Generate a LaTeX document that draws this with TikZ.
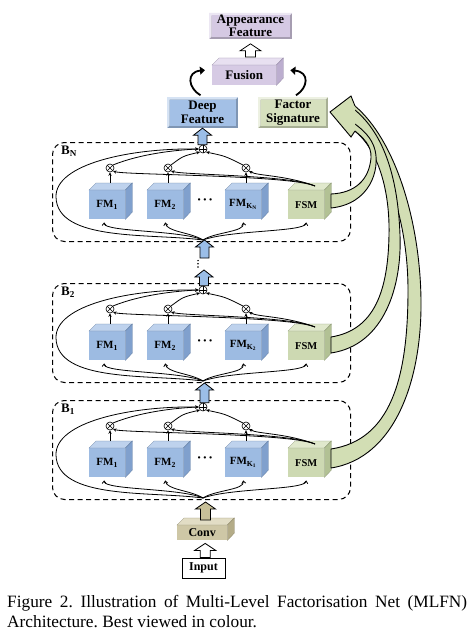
\documentclass[tikz,border=0pt]{standalone}
\usepackage{fontspec}
\setmainfont{Liberation Serif}
\usetikzlibrary{arrows.meta,calc}

\definecolor{lav}{RGB}{213,201,227}
\definecolor{blu}{RGB}{163,192,230}
\definecolor{grn}{RGB}{214,224,190}
\definecolor{cbF}{RGB}{157,187,226}
\definecolor{cbT}{RGB}{190,210,237}
\definecolor{cbR}{RGB}{128,160,205}
\definecolor{cgF}{RGB}{205,217,178}
\definecolor{cgT}{RGB}{224,232,204}
\definecolor{cgR}{RGB}{178,193,148}
\definecolor{ckF}{RGB}{206,199,166}
\definecolor{ckT}{RGB}{226,221,197}
\definecolor{ckR}{RGB}{180,172,136}
\definecolor{clF}{RGB}{214,202,228}
\definecolor{clT}{RGB}{232,224,241}
\definecolor{clR}{RGB}{188,174,207}
\definecolor{barrB}{RGB}{155,190,232}
\definecolor{barrK}{RGB}{200,192,152}
\definecolor{band}{RGB}{210,222,180}

\newcommand{\fmfont}{\fontsize{11}{11}\selectfont\bfseries}

\tikzset{
 sarr/.style={line width=0.8pt, -{Stealth[length=3.5pt,width=3.2pt]}},
 fanline/.style={line width=0.8pt, -{Straight Barb[length=2.5pt,width=4pt]}},
 dbox/.style={draw, line width=1pt, dash pattern=on 5pt off 3.5pt, rounded corners=12pt, inner sep=0pt},
 opcirc/.style={circle, draw, line width=0.6pt, minimum size=8pt, inner sep=0pt, fill=white},
 oplus/.style={opcirc, path picture={\draw[line width=0.5pt] (path picture bounding box.north) -- (path picture bounding box.south) (path picture bounding box.west) -- (path picture bounding box.east);}},
 otimes/.style={opcirc, path picture={\draw[line width=0.5pt] (path picture bounding box.north west) -- (path picture bounding box.south east) (path picture bounding box.south west) -- (path picture bounding box.north east);}},
 lbl/.style={font=\fontsize{13}{13.5}\selectfont\bfseries, align=center, inner sep=0pt},
 gband/.style={fill=band, draw=black, line width=0.9pt, line join=round},
}

% bevelled flat box: name, cx, cy, w, h, colour, text
\newcommand{\bevelbox}[7]{%
 \fill[#6!78!black] ({#2-#4/2},{#3-#5/2}) rectangle ({#2+#4/2},{#3+#5/2});
 \fill[#6!45!white] ({#2-#4/2},{#3-#5/2}) -- ({#2+#4/2},{#3-#5/2}) -- ({#2+#4/2-2.5},{#3-#5/2+2.5}) -- ({#2-#4/2+2.5},{#3-#5/2+2.5}) -- ({#2-#4/2+2.5},{#3+#5/2-2.5}) -- ({#2-#4/2},{#3+#5/2}) -- cycle;
 \node[fill=#6, minimum width={#4-5}, minimum height={#5-5}, lbl] (#1) at (#2,#3) {#7};}

% cube: name, x0, y0, w, h, d, colour prefix, text
\newcommand{\cube}[8]{%
 \node[inner sep=0pt, minimum width=#4pt, minimum height=#5pt, anchor=north west, fill=#7F] (#1) at (#2,#3) {#8};
 \filldraw[fill=#7T, draw=#7R!80!black, line width=0.3pt] (#1.north west) -- ++(#6,-#6) -- ++(#4,0) -- (#1.north east) -- cycle;
 \filldraw[fill=#7R, draw=#7R!80!black, line width=0.3pt] (#1.north east) -- ++(#6,-#6) -- ++(0,#5) -- (#1.south east) -- cycle;}

% block arrow: from, to, fill, shaft half width, head half width
\newcommand{\barrow}[5]{%
 \draw[line width=0.8pt, fill=#3, line join=miter] let \p1=(#1), \p2=(#2) in
 (\x2-#4pt,\y1) -- (\x2-#4pt,\y2-7pt) -- (\x2-#5pt,\y2-7pt) -- (\x2,\y2) -- (\x2+#5pt,\y2-7pt) -- (\x2+#4pt,\y2-7pt) -- (\x2+#4pt,\y1) -- cycle;}

% one MLFN block: T (top y), id, subscript
\newcommand{\mlfnblock}[3]{%
 \node[dbox, minimum width=298pt, minimum height=99pt, anchor=north west] (box#2) at (52,#1) {};
 \node[anchor=west, inner sep=0pt, font=\fontsize{13}{13}\selectfont\bfseries] (lab#2) at (61,#1+9) {B\textsubscript{#3}};
 \cube{fa#2}{89}{#1+48}{36}{29}{7}{cb}{\fmfont FM\textsubscript{1}}
 \cube{fb#2}{147}{#1+48}{36}{29}{7}{cb}{\fmfont FM\textsubscript{2}}
 \cube{fc#2}{225}{#1+48}{36}{29}{7}{cb}{\fmfont FM\textsubscript{K\textsubscript{#3}}}
 \cube{fs#2}{288}{#1+48}{36}{29}{7}{cg}{\fontsize{10.5}{10.5}\selectfont\bfseries FSM}
 \node[inner sep=0pt, font=\fontsize{14}{14}\selectfont\bfseries] (dots#2) at (205,#1+60) {\char"B7\kern1pt\char"B7\kern1pt\char"B7};
 \node[oplus] (p#2) at (203,#1+7) {};
 \node[otimes] (ma#2) at (110,#1+26) {};
 \node[otimes] (mb#2) at (168,#1+26) {};
 \node[otimes] (mc#2) at (246,#1+26) {};
 \coordinate (src#2) at (203,#1+98);
 \coordinate (gs#2) at (315,#1+44);
 \draw[sarr] ($(ma#2.south |- fa#2.north)+(0,-7)$) -- (ma#2.south);
 \draw[sarr] ($(mb#2.south |- fb#2.north)+(0,-7)$) -- (mb#2.south);
 \draw[sarr] ($(mc#2.south |- fc#2.north)+(0,-7)$) -- (mc#2.south);
 \draw[fanline] (src#2) .. controls (180,#1+88) and (104,#1+90) .. ($(fa#2.south)+(-3,3)$);
 \draw[fanline] (src#2) .. controls (190,#1+90) and (167,#1+90) .. ($(fb#2.south)+(0,3)$);
 \draw[fanline] (src#2) .. controls (215,#1+90) and (245,#1+90) .. ($(fc#2.south)+(0,3)$);
 \draw[fanline] (src#2) .. controls (230,#1+88) and (305,#1+90) .. ($(fs#2.south)+(0,3)$);
 \draw[sarr] (src#2) .. controls (150,#1+91) and (57,#1+100) .. (56,#1+55) .. controls (55,#1+22) and (130,#1+6) .. (p#2.west);
 \draw[sarr] (gs#2) .. controls (290,#1+33) and (125,#1+33) .. (ma#2.south east);
 \draw[sarr] (gs#2) .. controls (290,#1+33) and (185,#1+33) .. (mb#2.south east);
 \draw[sarr] (gs#2) .. controls (285,#1+33) and (258,#1+34) .. (mc#2.south east);
 \draw[sarr] (ma#2.north east) .. controls (140,#1+12) and (175,#1+8) .. (p#2.west);
 \draw[sarr] (mb#2.north east) .. controls (183,#1+14) .. (p#2.south west);
 \draw[sarr] (mc#2.north west) .. controls (225,#1+14) .. (p#2.south east);
}

\begin{document}
\begin{tikzpicture}[x=1pt,y=-1pt]
\fill[white] (0,0) rectangle (474,642);
\useasboundingbox (0,0) rectangle (474,642);

% ---- top part
\bevelbox{app}{250.5}{26}{83}{26}{lav}{Appearance\\Feature}
\cube{fusion}{212}{65}{64}{20}{7}{cl}{\fontsize{13}{13}\selectfont\bfseries Fusion}
\bevelbox{deep}{202.5}{112.5}{71}{31}{blu}{Deep\\Feature}
\bevelbox{fac}{293}{112.5}{70}{31}{grn}{Factor\\Signature}

\draw[line width=1.8pt, -{Triangle[length=5pt,width=8pt]}] ($(deep.north)+(-2,-4)$) .. controls (188,88) and (186,72) .. ($(fusion.west)+(-7,-5)$);
\draw[line width=1.8pt, -{Triangle[length=5pt,width=8pt]}] ($(fac.north)+(3,-4)$) .. controls (308,88) and (310,72) .. ($(fusion.east)+(14,-5)$);

% ---- blocks
\mlfnblock{142}{N}{N}
\mlfnblock{283}{2}{2}
\mlfnblock{400}{1}{1}

% ---- bottom
\cube{conv}{177}{525}{50}{15}{7}{ck}{\fontsize{12}{12}\selectfont\bfseries Conv}
\node[draw, line width=1pt, minimum width=43pt, minimum height=20pt, inner sep=0pt, font=\fontsize{12}{12}\selectfont\bfseries] (input) at (203.5,568) {Input};

% ---- block arrows
\coordinate (tipconv) at ($(conv.south)+(3,3)$);
\barrow{input.north}{tipconv}{white}{5}{10.5}
\coordinate (convtop) at ($(conv.north)+(3,-5)$);
\coordinate (tipb1) at ($(box1.south)+(4,2)$);
\barrow{convtop}{tipb1}{barrK}{5}{10}
\coordinate (tipb2) at ($(box2.south)+(3,0)$);
\barrow{p1.north}{tipb2}{barrB}{4.5}{9}
\coordinate (dlow) at (204,270);
\barrow{p2.north}{dlow}{barrB}{4.5}{9}
\coordinate (dhigh) at (204,258);
\coordinate (tipbn) at ($(boxN.south)+(3,-2)$);
\barrow{dhigh}{tipbn}{barrB}{4.5}{9}
\draw[line width=1.7pt, line cap=round, dash pattern=on 0pt off 3.2pt] (198,267) -- (198,259);
\coordinate (tipdeep) at ($(deep.south)+(0,2.5)$);
\barrow{pN.north}{tipdeep}{barrB}{4.5}{9}
\coordinate (appbot) at ($(fusion.north)+(5,-8)$);
\coordinate (tipapp) at ($(app.south)+(0,6.5)$);
\barrow{appbot}{tipapp}{white}{5}{10.5}

% ---- big green arrows FSM -> Factor Signature
\filldraw[gband] (355,131) .. controls (385,155) and (408,220) .. (408,290) .. controls (408,380) and (390,440) .. (331,449) -- (331,468) .. controls (395,458) and (422,380) .. (421,300) .. controls (420,220) and (395,140) .. (355,106);
\filldraw[gband] (355,131) .. controls (378,150) and (390,190) .. (389,235) .. controls (388,290) and (375,330) .. (331,337) -- (331,353) .. controls (385,345) and (402,285) .. (400,235) .. controls (398,180) and (385,135) .. (355,110);
\filldraw[gband] (355,131) .. controls (362,137) and (372,145) .. (371,158) .. controls (369,180) and (355,193) .. (331,194) -- (331,208) .. controls (370,204) and (380,170) .. (375,150) .. controls (372,138) and (363,130) .. (355,124);
\fill[band] (330,112) -- (351,96) -- (355,106) -- (355,131) -- (351,137) -- cycle;
\draw[line width=0.9pt, line join=miter] (355,106) -- (351,96) -- (330,112) -- (351,137) -- (355,131);

% ---- caption
\node[anchor=base west, inner sep=0pt, font=\fontsize{17.3}{20}\selectfont\frenchspacing] (cap1) at (7,607) {\makebox[460pt][s]{Figure 2. Illustration of Multi-Level Factorisation Net (MLFN)}};
\node[anchor=base west, inner sep=0pt, font=\fontsize{17.3}{20}\selectfont\frenchspacing] (cap2) at (7,627) {Architecture. Best viewed in colour.};
\end{tikzpicture}
\end{document}
